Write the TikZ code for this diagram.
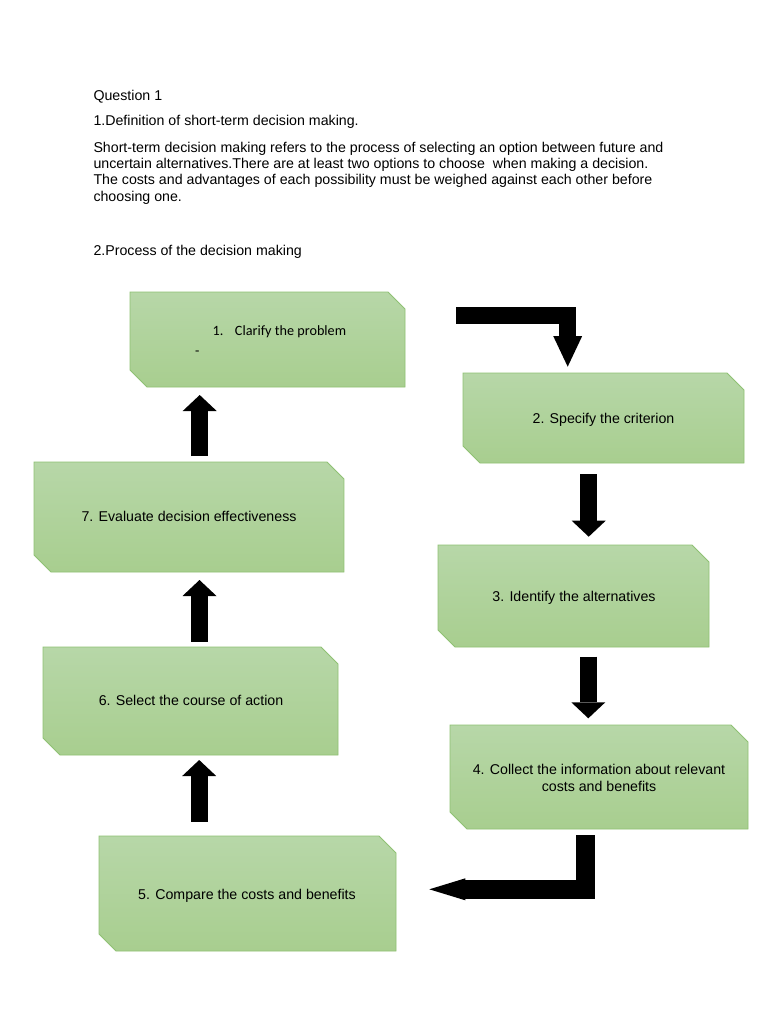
\documentclass[tikz,border=0pt]{standalone}
\usepackage{fontspec}
\setmainfont{Liberation Sans}
\newfontfamily\calibri{Carlito}
\usetikzlibrary{arrows.meta}

\begin{document}
\begin{tikzpicture}[x=1pt,y=-1pt,
    every node/.style={inner sep=0pt,font=\fontsize{14.2pt}{16.3pt}\selectfont},
    txt/.style={anchor=base west},
    boxtxt/.style={anchor=base,align=center},
    snipbox/.style={draw=box_edge,line width=0.8pt,top color=box_top,bottom color=box_bottom},
    blockup/.style={line width=17pt,-{Triangle[length=16pt,width=34pt,line width=0pt]}}
]
    \definecolor{box_top}{HTML}{B7D7A8}
    \definecolor{box_bottom}{HTML}{A8CE8F}
    \definecolor{box_edge}{HTML}{8FC173}
    %\draw[help lines] (0,0) grid[step=50] (768,1024);
    \fill[white] (0,0) rectangle (768,1024);
    \useasboundingbox (0,0) rectangle (768,1024);

    % heading and definition
    \node[txt] (question) at (93.3,100.7) {Question 1};
    \node[txt] (definition) at (93.3,125.7) {1.Definition of short-term decision making.};
    \node[txt] (par1) at (93.3,152.3) {Short-term decision making refers to the process of selecting an option between future and};
    \node[txt] (par2) at (93.3,168.6) {uncertain alternatives.There are at least two options to choose\ \ when making a decision.};
    \node[txt] (par3) at (93.3,184.9) {The costs and advantages of each possibility must be weighed against each other before};
    \node[txt] (par4) at (93.3,201.2) {choosing one.};
    \node[txt] (process) at (93.3,255) {2.Process of the decision making};

    % the seven steps
    \path[snipbox] (130,292) -- (388,292) -- (405,309) -- (405,387) -- (147,387) -- (130,370) -- cycle;
    \path[snipbox] (463,373) -- (727,373) -- (744,390) -- (744,463) -- (480,463) -- (463,446) -- cycle;
    \path[snipbox] (438,545) -- (692,545) -- (709,562) -- (709,647) -- (455,647) -- (438,630) -- cycle;
    \path[snipbox] (450,725) -- (731,725) -- (748,742) -- (748,829) -- (467,829) -- (450,812) -- cycle;
    \path[snipbox] (99,836) -- (379,836) -- (396,853) -- (396,951) -- (116,951) -- (99,934) -- cycle;
    \path[snipbox] (43,647) -- (321,647) -- (338,664) -- (338,755) -- (60,755) -- (43,738) -- cycle;
    \path[snipbox] (34,462) -- (327,462) -- (344,479) -- (344,572) -- (51,572) -- (34,555) -- cycle;

    \node[txt] (clarify) at (212.5,335) {\calibri 1.\hspace{11.5pt}Clarify the problem};
    \node[txt] (dash) at (195,355) {\calibri -};
    \node[boxtxt] (criterion) at (603.5,423.3) {2. Specify the criterion};
    \node[boxtxt] (alternatives) at (574,601) {3. Identify the alternatives};
    \node[boxtxt] (collect) at (599,791) {4. Collect the information about relevant\\costs and benefits};
    \node[boxtxt] (compare) at (247,899) {5. Compare the costs and benefits};
    \node[boxtxt] (select) at (191,705.5) {6. Select the course of action};
    \node[boxtxt] (evaluate) at (189,521.7) {7. Evaluate decision effectiveness};

    % block arrows
    \coordinate (a12s) at (456,315.5);
    \coordinate (a12m) at (567.7,315.5);
    \coordinate (a12e) at (567.7,366.7);
    \coordinate (a23s) at (588.7,474);
    \coordinate (a23e) at (588.7,536.7);
    \coordinate (a34s) at (588.3,656.7);
    \coordinate (a34e) at (588.3,718.3);
    \coordinate (a45s) at (585.3,835.3);
    \coordinate (a45m) at (585.3,889.3);
    \coordinate (a45e) at (429.3,889.3);
    \coordinate (a56s) at (199.2,821.7);
    \coordinate (a56e) at (199.2,760);
    \coordinate (a67s) at (199.5,641.7);
    \coordinate (a67e) at (199.5,580);
    \coordinate (a71s) at (199.7,456);
    \coordinate (a71e) at (199.7,395);

    \draw[line width=17pt,line join=miter,-{Triangle[length=30.7pt,width=29pt,line width=0pt]}] (a12s) -- (a12m) -- (a12e);
    \draw[blockup] (a23s) -- (a23e);
    \draw[blockup] (a34s) -- (a34e);
    \draw[line width=19pt,line join=miter,-{Triangle[length=36pt,width=22pt,line width=0pt]}] (a45s) -- (a45m) -- (a45e);
    \draw[blockup] (a56s) -- (a56e);
    \draw[blockup] (a67s) -- (a67e);
    \draw[blockup] (a71s) -- (a71e);
\end{tikzpicture}
\end{document}
